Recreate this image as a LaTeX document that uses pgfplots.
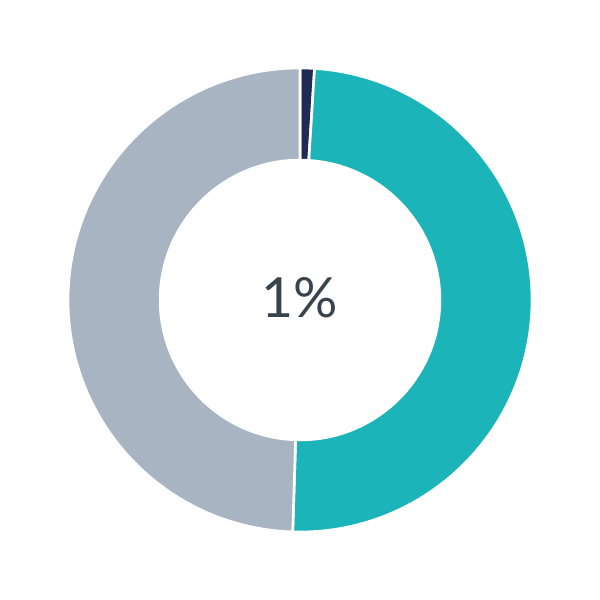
\documentclass[border=0pt]{standalone}
\usepackage{pgfplots}
\usepackage{fontspec}
\setmainfont{Lato}
\pgfplotsset{compat=1.18}

\definecolor{segnavy}{HTML}{1F2A55}
\definecolor{segteal}{HTML}{1BB4B9}
\definecolor{segslate}{HTML}{A9B4C2}
\definecolor{labeltxt}{HTML}{37434D}

% #1 start share (%), #2 end share (%), #3 colour; outer radius 1, inner 0.603
\newcommand\donutseg[3]{%
  \pgfmathsetmacro\sa{90-3.6*#1}%
  \pgfmathsetmacro\ea{90-3.6*#2}%
  \edef\tmp{\noexpand\fill[#3, draw=white, line width=0.8pt]
    (axis cs:{cos(\sa)},{sin(\sa)}) arc[start angle=\sa, end angle=\ea, radius=70pt]
    -- (axis cs:{0.603*cos(\ea)},{0.603*sin(\ea)}) arc[start angle=\ea, end angle=\sa, radius=42.2pt]
    -- cycle;}%
  \tmp}

\begin{document}
\begin{tikzpicture}
\begin{axis}[
  hide axis,
  x=70pt, y=70pt,
  xmin=-1.293, xmax=1.293, ymin=-1.293, ymax=1.293,
  clip=false,
]
% keep the whole square as the page
\path (axis cs:-1.293,-1.293) rectangle (axis cs:1.293,1.293);
% shares: 1 / 49.5 / 49.5
\donutseg{0}{1}{segnavy}
\donutseg{1}{50.5}{segteal}
\donutseg{50.5}{100}{segslate}
\node[text=labeltxt, font=\fontsize{16.7}{20}\selectfont] at (axis cs:0,0.01) {1\%};
\end{axis}
\end{tikzpicture}
\end{document}
